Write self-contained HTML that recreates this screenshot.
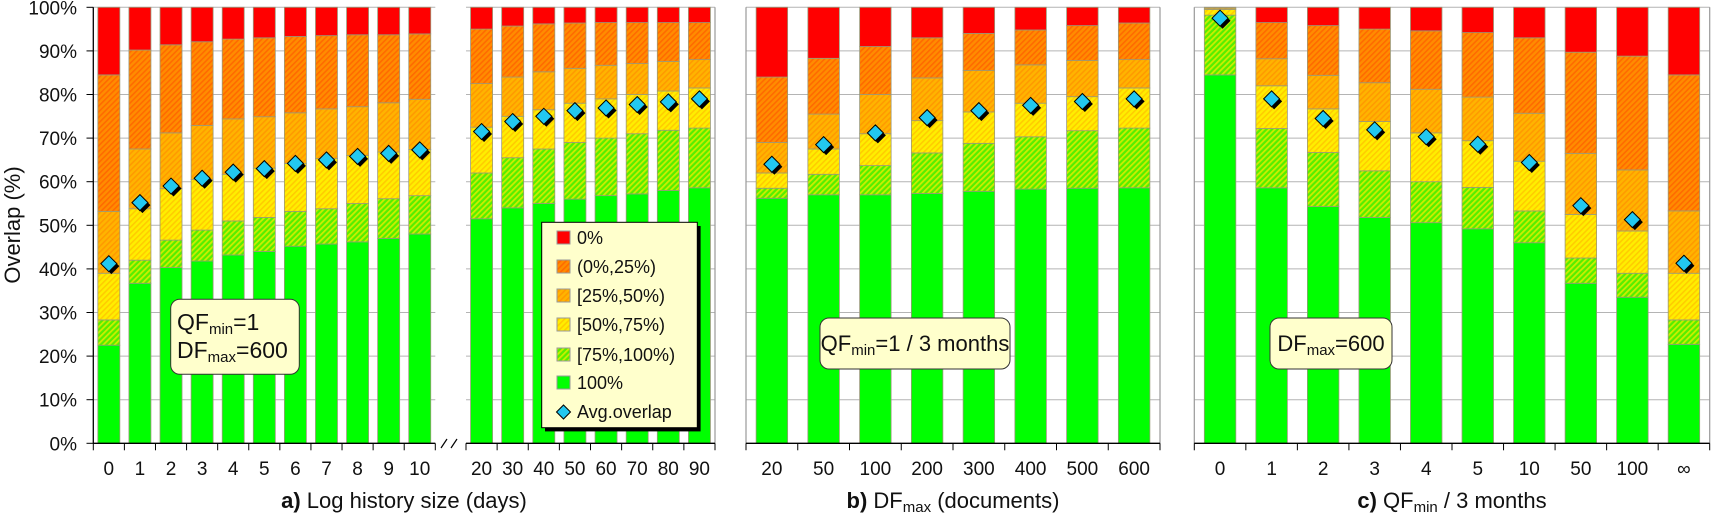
<!DOCTYPE html>
<html><head><meta charset="utf-8"><style>
html,body{margin:0;padding:0;background:#fff}
svg{display:block;font-family:"Liberation Sans",Arial,sans-serif}
</style></head><body>
<svg id="chart" width="1714" height="513" viewBox="0 0 1714 513" xmlns="http://www.w3.org/2000/svg">
<defs>
<pattern id="pOrange" patternUnits="userSpaceOnUse" width="4" height="4" patternTransform="rotate(45)"><rect width="4" height="4" fill="#ff8c00"/><rect width="1.6" height="4" fill="#ff6a00"/></pattern>
<pattern id="pLOrange" patternUnits="userSpaceOnUse" width="4" height="4" patternTransform="rotate(45)"><rect width="4" height="4" fill="#ffb400"/><rect width="1.6" height="4" fill="#ff9a00"/></pattern>
<pattern id="pYellow" patternUnits="userSpaceOnUse" width="4" height="4" patternTransform="rotate(45)"><rect width="4" height="4" fill="#ffee00"/><rect width="1.6" height="4" fill="#ffcc00"/></pattern>
<pattern id="pGreen" patternUnits="userSpaceOnUse" width="4" height="4" patternTransform="rotate(45)"><rect width="4" height="4" fill="#55ee00"/><rect width="1.8" height="4" fill="#ccee00"/></pattern>
</defs>
<g id="grid"></g>
<g id="bars"></g>
<g id="axes"></g>
<g id="marks"></g>
<g id="overlay"></g>
</svg>
<script>
// ---- data: panel a, first segment (days) ----
const catsA1 = ["0","1","2","3","4","5","6","7","8","9","10"];
const greenA1 = [22.5,36.7,40.3,41.8,43.2,44,45.2,45.7,46.2,47,48];
const hatchA1 = [28.3,42,46.6,48.9,51,51.8,53.2,53.8,55,56.1,56.8];
const yellowA1 = [39,53.8,58.4,60.5,61.7,63.1,64.2,65.3,66,66.8,67.4];
const lorangeA1 = [53.2,67.5,71.2,72.9,74.4,74.9,75.8,76.7,77.2,78.1,78.9];
const orangeA1 = [84.5,90.2,91.4,92.1,92.7,93,93.3,93.5,93.7,93.7,93.9];
const avgA1 = [41.2,55.2,59,60.8,62.2,63,64.2,65,65.8,66.5,67.3];
// ---- panel a, second segment ----
const catsA2 = ["20","30","40","50","60","70","80","90"];
const greenA2 = [51.5,54,55,56,56.8,57.2,58,58.6];
const hatchA2 = [62,65.5,67.5,69,70,71,71.8,72.3];
const yellowA2 = [72.5,75,76.5,78,79,80,80.8,81.5];
const lorangeA2 = [82.5,84,85.2,86,86.7,87.1,87.6,88];
const orangeA2 = [95,95.7,96.2,96.4,96.5,96.5,96.5,96.5];
const avgA2 = [71.5,73.8,75,76.3,76.9,77.7,78.3,79];
// ---- panel b ----
const catsB = ["20","50","100","200","300","400","500","600"];
const greenB = [56.2,57,57,57.3,57.8,58.3,58.5,58.6];
const hatchB = [58.5,61.7,63.7,66.6,68.8,70.3,71.7,72.3];
const yellowB = [62,67.5,71,74,76,78,79.5,81.5];
const lorangeB = [69,75.5,80,83.8,85.5,86.8,87.8,88];
const orangeB = [84,88.3,91,93,94,94.8,95.8,96.4];
const avgB = [64,68.5,71.2,74.7,76.3,77.5,78.4,79];
// ---- panel c ----
const catsC = ["0","1","2","3","4","5","10","50","100","\u221e"];
const greenC = [84.5,58.6,54.3,51.8,50.6,49.2,46,36.7,33.5,22.7];
const hatchC = [98.2,72.2,66.7,62.5,60,58.7,53.3,42.5,39,28.3];
const yellowC = [99.5,82,76.7,73.8,71.2,69.4,64.7,52.5,48.7,39];
const lorangeC = [99.8,88.2,84.4,82.7,81.2,79.4,75.7,66.5,62.7,53.3];
const orangeC = [100,96.5,95.8,95,94.6,94.2,93,89.7,88.8,84.5];
const avgC = [97.5,79,74.5,71.9,70.3,68.6,64.4,54.5,51.3,41.3];
const yTicks = [0,10,20,30,40,50,60,70,80,90,100];

const NS = "http://www.w3.org/2000/svg";
const Y0 = 443.3, Y100 = 7.3;
function yS(v){ return Y0 - (Y0 - Y100) * v / 100; }
function mk(tag, attrs, parent){
  const e = document.createElementNS(NS, tag);
  for (const k in attrs) e.setAttribute(k, attrs[k]);
  parent.appendChild(e);
  return e;
}
const gGrid = document.getElementById("grid");
const gBars = document.getElementById("bars");
const gAxes = document.getElementById("axes");
const gMarks = document.getElementById("marks");

const panels = [
  {id:"a1", x0:93.3, x1:435.3, bw:22, cats:catsA1, g:greenA1, h:hatchA1, y:yellowA1, lo:lorangeA1, o:orangeA1, avg:avgA1, frame:false},
  {id:"a2", x0:466, x1:715, bw:22, cats:catsA2, g:greenA2, h:hatchA2, y:yellowA2, lo:lorangeA2, o:orangeA2, avg:avgA2, frame:"right"},
  {id:"b", x0:746, x1:1160, bw:31.5, cats:catsB, g:greenB, h:hatchB, y:yellowB, lo:lorangeB, o:orangeB, avg:avgB, frame:"box"},
  {id:"c", x0:1194.3, x1:1709.7, bw:31.5, cats:catsC, g:greenC, h:hatchC, y:yellowC, lo:lorangeC, o:orangeC, avg:avgC, frame:"box"}
];
const segNames = ["green-100","green-hatched-75-100","yellow-50-75","light-orange-25-50","orange-0-25","red-0"];
const segFills = ["#00ff00","url(#pGreen)","url(#pYellow)","url(#pLOrange)","url(#pOrange)","#ff0000"];

panels.forEach(p => {
  const n = p.cats.length, step = (p.x1 - p.x0) / n;
  yTicks.forEach(t => {
    if (t === 0) return;
    const gl = mk("line", {x1:p.x0, x2:p.x1, y1:yS(t), y2:yS(t), stroke:"#b4b4b4", "stroke-width":1}, gGrid);
    
    
  });
  if (p.frame === "box" || p.frame === "right") {
    const fr = mk("line", {x1:p.x1, x2:p.x1, y1:Y100, y2:Y0, stroke:"#999", "stroke-width":1.2}, gAxes);
    
    
  }
  if (p.frame === "box") {
    const fl = mk("line", {x1:p.x0, x2:p.x0, y1:Y100, y2:Y0, stroke:"#999", "stroke-width":1.2}, gAxes);
    
    
  }
  for (let i = 0; i < n; i++) {
    const cx = p.x0 + step * (i + 0.5);
    const bounds = [0, p.g[i], p.h[i], p.y[i], p.lo[i], p.o[i], 100];
    const bar = mk("g", {}, gBars);
    
    
    for (let s = 0; s < 6; s++) {
      const lo = bounds[s], hi = bounds[s + 1];
      if (hi - lo <= 0.01) continue;
      const r = mk("rect", {x:cx - p.bw / 2, y:yS(hi), width:p.bw, height:yS(lo) - yS(hi), fill:segFills[s], stroke:"#9a9a7a", "stroke-width":0.8}, bar);
      
      
    }
    const dy = yS(p.avg[i]), d = 8;
    const sh = mk("polygon", {points:`${cx+2.5},${dy-d+2.5} ${cx+d+2.5},${dy+2.5} ${cx+2.5},${dy+d+2.5} ${cx-d+2.5},${dy+2.5}`, fill:"#000"}, gMarks);
    
    
    const dm = mk("polygon", {points:`${cx},${dy-d} ${cx+d},${dy} ${cx},${dy+d} ${cx-d},${dy}`, fill:"#22c8f0", stroke:"#000", "stroke-width":1}, gMarks);
    
    
    const tl = mk("text", {x:cx, y:475, "font-size":19, "text-anchor":"middle", fill:"#111"}, gAxes);
    tl.textContent = p.cats[i];
    
    
  }
  const ax = mk("line", {x1:p.x0, x2:p.x1, y1:Y0, y2:Y0, stroke:"#000", "stroke-width":1.3}, gAxes);
  
  
  for (let i = 0; i <= n; i++) {
    const tx = p.x0 + step * i;
    const tk = mk("line", {x1:tx, x2:tx, y1:Y0, y2:Y0 + 7, stroke:"#000", "stroke-width":1}, gAxes);
    
    
  }
});

const yAx = mk("line", {x1:93.3, x2:93.3, y1:Y100, y2:Y0, stroke:"#000", "stroke-width":1.3}, gAxes);


yTicks.forEach(t => {
  const tk = mk("line", {x1:86.5, x2:93.3, y1:yS(t), y2:yS(t), stroke:"#000", "stroke-width":1}, gAxes);
  
  
  const tl = mk("text", {x:77, y:yS(t) + 7, "font-size":19, "text-anchor":"end", fill:"#111"}, gAxes);
  tl.textContent = t + "%";
  
  
});
</script>
<script>
(function(){
  const frag = document.createElement("div");
  frag.innerHTML = `<svg xmlns="http://www.w3.org/2000/svg">
  <g stroke="#000" stroke-width="1.2">
    <line x1="441" y1="448" x2="447" y2="439"/><line x1="451" y1="448" x2="457" y2="439"/>
  </g>
  <text transform="translate(20,225) rotate(-90)" font-size="22" text-anchor="middle" fill="#111">Overlap (%)</text>
  <text x="404" y="508" font-size="22" text-anchor="middle" fill="#111"><tspan font-weight="bold">a)</tspan> Log history size (days)</text>
  <text x="953" y="508" font-size="22" text-anchor="middle" fill="#111"><tspan font-weight="bold">b)</tspan> DF<tspan font-size="15" dy="4">max</tspan><tspan dy="-4"> (documents)</tspan></text>
  <text x="1452" y="508" font-size="22" text-anchor="middle" fill="#111"><tspan font-weight="bold">c)</tspan> QF<tspan font-size="15" dy="4">min</tspan><tspan dy="-4"> / 3 months</tspan></text>
  <g>
    <rect x="170.7" y="299.3" width="128.6" height="75" rx="9" fill="#ffffcc" stroke="#333" stroke-width="1"/>
    <text x="177" y="330" font-size="23" fill="#111">QF<tspan font-size="15" dy="4">min</tspan><tspan dy="-4">=1</tspan></text>
    <text x="177" y="358" font-size="23" fill="#111">DF<tspan font-size="15" dy="4">max</tspan><tspan dy="-4">=600</tspan></text>
  </g>
  <g>
    <rect x="820" y="318" width="190" height="51" rx="9" fill="#ffffcc" stroke="#333" stroke-width="1"/>
    <text x="915" y="351" font-size="22" text-anchor="middle" fill="#111">QF<tspan font-size="15" dy="4">min</tspan><tspan dy="-4">=1 / 3 months</tspan></text>
  </g>
  <g>
    <rect x="1270" y="318" width="122" height="51" rx="9" fill="#ffffcc" stroke="#333" stroke-width="1"/>
    <text x="1331" y="351" font-size="22" text-anchor="middle" fill="#111">DF<tspan font-size="15" dy="4">max</tspan><tspan dy="-4">=600</tspan></text>
  </g>
  <g>
    <rect x="545" y="226" width="155.6" height="205.4" fill="#000"/>
    <rect x="541.7" y="222.3" width="155.6" height="205.4" fill="#ffffcc" stroke="#000" stroke-width="1"/>
    <g><rect x="557" y="231" width="13" height="13" fill="#ff0000" stroke="#999"/><text x="577" y="244" font-size="18" fill="#111">0%</text></g>
    <g><rect x="557" y="260" width="13" height="13" fill="url(#pOrange)" stroke="#999"/><text x="577" y="273" font-size="18" fill="#111">(0%,25%)</text></g>
    <g><rect x="557" y="289" width="13" height="13" fill="url(#pLOrange)" stroke="#999"/><text x="577" y="302" font-size="18" fill="#111">[25%,50%)</text></g>
    <g><rect x="557" y="318" width="13" height="13" fill="url(#pYellow)" stroke="#999"/><text x="577" y="331" font-size="18" fill="#111">[50%,75%)</text></g>
    <g><rect x="557" y="348" width="13" height="13" fill="url(#pGreen)" stroke="#999"/><text x="577" y="361" font-size="18" fill="#111">[75%,100%)</text></g>
    <g><rect x="557" y="376" width="13" height="13" fill="#00ff00" stroke="#999"/><text x="577" y="389" font-size="18" fill="#111">100%</text></g>
    <g><polygon points="563.5,405 570.5,412 563.5,419 556.5,412" fill="#22c8f0" stroke="#000"/><text x="577" y="418" font-size="18" fill="#111">Avg.overlap</text></g>
  </g>
  </svg>`;
  const src = frag.firstElementChild;
  const over = document.getElementById("overlay");
  while (src.firstChild) over.appendChild(src.firstChild);
})();
</script>
</body></html>
